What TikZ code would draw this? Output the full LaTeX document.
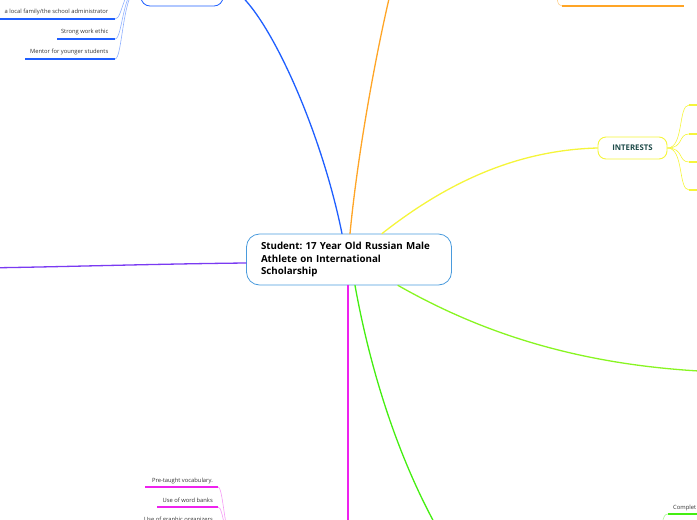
\documentclass[tikz,border=0pt]{standalone}
\usepackage{fontspec}
\setmainfont{Open Sans}
\frenchspacing
\definecolor{cborder}{HTML}{4A9BDD}
\definecolor{blu}{HTML}{1F5FFF}
\definecolor{blulight}{HTML}{8FB0FF}
\definecolor{orng}{HTML}{FFA526}
\definecolor{orlight}{HTML}{FFD08A}
\definecolor{yel}{HTML}{F5F53A}
\definecolor{lgrn}{HTML}{88F522}
\definecolor{grn}{HTML}{44EE11}
\definecolor{grnlight}{HTML}{A8F590}
\definecolor{mag}{HTML}{EE22EE}
\definecolor{maglight}{HTML}{F59AF5}
\definecolor{purp}{HTML}{7A3AF2}
\definecolor{tealtext}{HTML}{1D4A48}
\begin{document}
\begin{tikzpicture}[x=1pt,y=-1pt,
  branch/.style={line width=1.3pt, line cap=round},
  twig/.style={line width=0.6pt},
  uline/.style={line width=1.4pt},
  leaf/.style={font=\fontsize{5.8}{6.8}\selectfont, text=black!80, inner sep=0pt, anchor=base east},
]
\useasboundingbox (0,0) rectangle (697,520);
\clip (0,0) rectangle (697,520);

% central topic
\node[draw=cborder, line width=0.8pt, rounded corners=13pt, minimum width=205pt,
      minimum height=51pt, text width=176pt, inner xsep=14.5pt, align=left,
      font=\bfseries\fontsize{9.75}{12.5}\selectfont] (center) at (349,259.5)
      {Student: 17 Year Old Russian Male\\Athlete on International\\Scholarship};

% off-canvas / partial parents
\node[draw=blu, line width=0.8pt, rounded corners=9pt, minimum width=82pt, minimum height=40pt] (bluenode) at (182,-14) {};
\coordinate (orangetop) at (396,-30);
\coordinate (orangepar) at (556,-25);
\coordinate (lgrnend) at (720,372);
\coordinate (grnend) at (447,545);
\coordinate (grnpar) at (660,545);
\coordinate (magend) at (348,545);
\coordinate (magpar) at (236,545);
\coordinate (purpend) at (-20,268);

% INTERESTS
\node[draw=yel, line width=0.9pt, rounded corners=8pt, minimum width=69pt, minimum height=22pt,
      font=\bfseries\fontsize{7.8}{9}\selectfont, text=tealtext] (interests) at (632.5,148) {INTERESTS};

% main branches
\draw[branch, blu] ([xshift=-7pt]center.north) .. controls (318,115) and (255,-14) .. (bluenode.east);
\draw[branch, orng] ([xshift=1pt]center.north) .. controls (358,150) and (378,40) .. (orangetop);
\draw[branch, yel] ([xshift=33pt]center.north) .. controls (450,180) and (520,150) .. (interests.west);
\draw[branch, lgrn] ([xshift=49pt]center.south) .. controls (480,332) and (580,367) .. (lgrnend);
\draw[branch, grn] ([xshift=6pt]center.south) .. controls (373,385) and (405,475) .. (grnend);
\draw[branch, mag] ([xshift=-1pt]center.south) -- (magend);
\draw[branch, purp] ([yshift=-3.5pt]center.west) .. controls (150,264) and (60,267) .. (purpend);

% blue children
\coordinate (b1) at (115,19);
\coordinate (b2) at (115,39);
\coordinate (b3) at (115,59);
\foreach \c in {b1,b2,b3}{
  \draw[twig, blulight] (bluenode.west) .. controls (122,-14) and ([xshift=8pt]\c) .. (\c);
}
\node[leaf] (bt1) at (108.5,13.5) {a local family/the school administrator};
\node[leaf] (bt2) at (108.5,33) {Strong work ethic};
\node[leaf] (bt3) at (108.5,53) {Mentor for younger students};
\draw[uline, blu] (b1) -- (-2,19);
\draw[uline, blu] (b2) -- (57,39);
\draw[uline, blu] (b3) -- (25,59);

% orange child (text above the page)
\coordinate (o1) at (562,6);
\draw[twig, orlight] (orangepar) .. controls (556,-2) and (557,6) .. (o1);
\draw[uline, orng] (o1) -- (684,6);

% yellow children
\coordinate (y1) at (689,105);
\coordinate (y2) at (689,134);
\coordinate (y3) at (689,162);
\coordinate (y4) at (689,190);
\foreach \c in {y1,y2,y3,y4}{
  \draw[twig, yel] (interests.east) .. controls (684,148) and ([xshift=-11pt]\c) .. (\c);
  \draw[uline, yel] (\c) -- ++(12,0);
}

% magenta children
\coordinate (m1) at (218,487);
\coordinate (m2) at (218,507);
\draw[twig, maglight] (magpar) .. controls (224,545) and (224,487) .. (m1);
\draw[twig, maglight] (magpar) .. controls (224,545) and (224,507) .. (m2);
\node[leaf] (mt1) at (213,482) {Pre-taught vocabulary.};
\node[leaf] (mt2) at (213,502) {Use of word banks};
\node[leaf] (mt3) at (213,521.5) {Use of graphic organizers};
\draw[uline, mag] (m1) -- (145,487);
\draw[uline, mag] (m2) -- (157,507);

% green child
\coordinate (g1) at (668,514);
\draw[twig, grnlight] (grnpar) .. controls (662,525) and (662,514) .. (g1);
\draw[uline, grn] (g1) -- (700,514);
\node[leaf, anchor=base west] (gt1) at (673,509) {Complet};
\end{tikzpicture}
\end{document}
